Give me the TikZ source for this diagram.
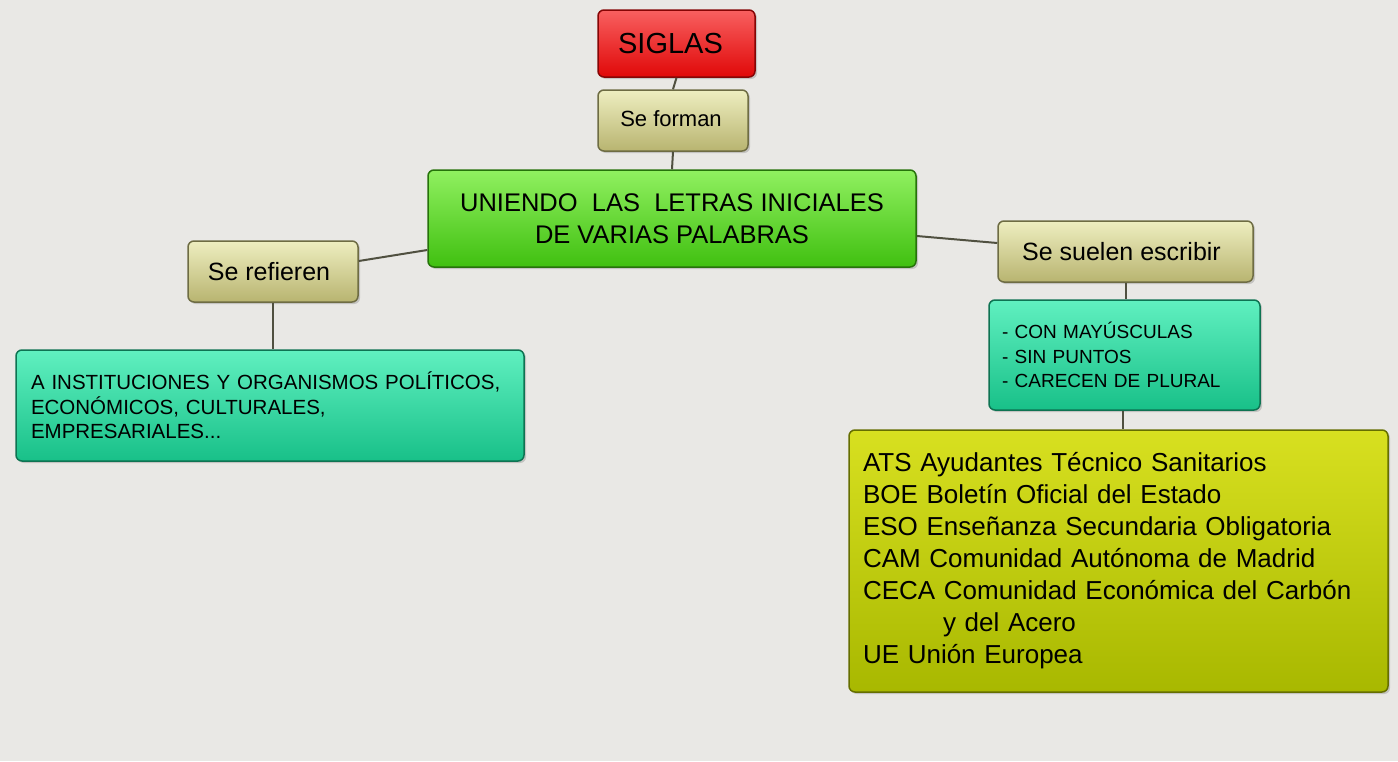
\documentclass[tikz,border=0pt]{standalone}
\usepackage{fontspec}
\setmainfont{Liberation Sans}
\usetikzlibrary{shadows}
\definecolor{bg}{HTML}{E9E8E5}
\definecolor{redt}{HTML}{F86060}\definecolor{redb}{HTML}{E00808}
\definecolor{kht}{HTML}{EEEEC0}\definecolor{khb}{HTML}{B8B470}
\definecolor{grt}{HTML}{90F060}\definecolor{grb}{HTML}{40C010}
\definecolor{tet}{HTML}{60F0C0}\definecolor{teb}{HTML}{18C088}
\definecolor{olt}{HTML}{D8E020}\definecolor{olb}{HTML}{A8B800}
\definecolor{edge}{HTML}{505040}
\tikzset{
 box/.style={rounded corners=6pt, draw=#1!60!black, line width=1.5pt, drop shadow={shadow xshift=2pt,shadow yshift=-2pt,opacity=.35}, inner sep=0pt},
 rbox/.style={box=redb, top color=redt, bottom color=redb},
 kbox/.style={box=khb, top color=kht, bottom color=khb},
 gbox/.style={box=grb, top color=grt, bottom color=grb},
 tbox/.style={box=teb, top color=tet, bottom color=teb},
 obox/.style={box=olb, top color=olt, bottom color=olb},
 link/.style={draw=edge, line width=2pt},
}
\begin{document}
\begin{tikzpicture}[x=1pt,y=-1pt]
\fill[bg] (0,0) rectangle (1398,761);
\useasboundingbox (0,0) rectangle (1398,761);
\node[rbox, minimum width=157pt, minimum height=67pt, font=\fontsize{29}{32}\selectfont] (sig) at (676.5,43.5) {\hspace*{-12pt}SIGLAS};
\node[kbox, minimum width=150pt, minimum height=61pt, font=\fontsize{22}{24}\selectfont] (form) at (673,120.5) {\raisebox{3pt}{Se forman}\hspace*{4pt}};
\node[gbox, minimum width=488pt, minimum height=97pt, align=center, font=\fontsize{25.5}{32}\selectfont] (uni) at (672,218.5) {UNIENDO\ \ LAS\ \ LETRAS INICIALES\\DE VARIAS PALABRAS};
\node[kbox, minimum width=170pt, minimum height=61pt, font=\fontsize{25}{26}\selectfont] (ref) at (273,271.5) {\hspace*{-8pt}Se refieren};
\node[kbox, minimum width=255pt, minimum height=61pt, font=\fontsize{25}{26}\selectfont] (sue) at (1125.5,251.5) {\hspace*{-8pt}Se suelen escribir};
\node[tbox, minimum width=271pt, minimum height=110pt, text width=245pt, align=left, font=\fontsize{19}{24.5}\selectfont] (may) at (1124.5,355) {- CON MAYÚSCULAS\\- SIN PUNTOS\\- CARECEN DE PLURAL\\[18pt]};
\node[tbox, minimum width=508pt, minimum height=111pt, text width=478pt, align=left, font=\fontsize{20.5}{24.5}\selectfont] (ins) at (270,405.5) {A INSTITUCIONES Y ORGANISMOS POLÍTICOS,\\ECONÓMICOS, CULTURALES,\\EMPRESARIALES...\\[22pt]};
\node[obox, minimum width=539pt, minimum height=262pt, text width=511pt, align=left, font=\fontsize{26}{32}\selectfont] (ats) at (1118.5,561) {ATS Ayudantes Técnico Sanitarios\\BOE Boletín Oficial del Estado\\ESO Enseñanza Secundaria Obligatoria\\CAM Comunidad Autónoma de Madrid\\CECA Comunidad Económica del Carbón\\\hspace*{80pt}y del Acero\\UE Unión Europea\\[12pt]};
\draw[link] (sig.south) -- (form.north);
\draw[link] (form.south) -- (uni.north);
\draw[link] (uni.west |- 0,250) -- (ref.east |- 0,261);
\draw[link] (ref.south) -- (ins.north -| ref.south);
\draw[link] (uni.east |- 0,236) -- (sue.west |- 0,243);
\draw[link] (sue.south) -- (may.north -| sue.south);
\draw[link] (may.south -| 1123,0) -- (ats.north -| 1123,0);
\end{tikzpicture}
\end{document}
